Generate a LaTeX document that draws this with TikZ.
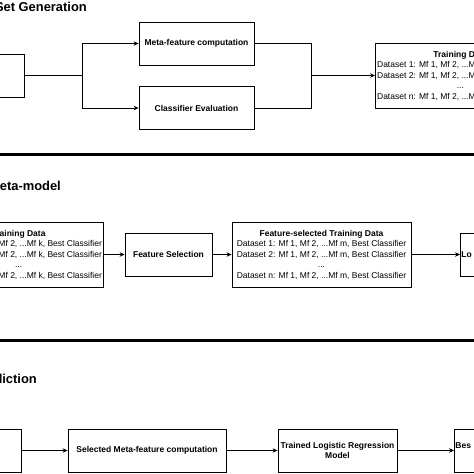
\documentclass[tikz,border=0pt]{standalone}
\usepackage{fontspec}
\setmainfont{Liberation Sans}
\usetikzlibrary{arrows.meta}

% rows of a training data table
\newcommand{\mfrows}[2]{\textbf{#1}\\Dataset 1: Mf 1, Mf 2, ...Mf #2, Best Classifier\\Dataset 2: Mf 1, Mf 2, ...Mf #2, Best Classifier\\...\\Dataset n: Mf 1, Mf 2, ...Mf #2, Best Classifier}

\begin{document}
\begin{tikzpicture}[x=1pt,y=-1pt,
        box/.style={draw,line width=0.8pt,minimum height=43,inner sep=1pt,align=center,
            font=\fontsize{8.5}{10}\selectfont\bfseries},
        databox/.style={draw,line width=0.8pt,minimum height=65,inner sep=1pt,align=center,
            font=\fontsize{8.5}{10.5}\selectfont},
        title/.style={anchor=base east,inner sep=0pt,font=\fontsize{12.9}{14}\selectfont\bfseries},
        arr/.style={-{Stealth[length=5pt,width=4.5pt]},line width=0.8pt},
        line/.style={line width=0.8pt},
        sep/.style={line width=3pt}]
        % frame of the picture, everything outside is cut off
        \useasboundingbox (0,0) rectangle (474,474);
        \clip (0,0) rectangle (474,474);

        % first stage
        \node[title] (t1) at (87,11) {Set Generation};
        \node[box,minimum width=90,anchor=east] (src) at (25,75.5) {};
        \node[box,minimum width=115] (meta) at (196.5,43.5) {Meta-feature computation};
        \node[box,minimum width=115] (clf) at (196.5,108) {Classifier Evaluation};
        \node[databox,minimum width=170,anchor=west] (train) at (375,75.5) {\mfrows{Training Data}{k}};

        % split into the two branches
        \draw[line] (src.east) -- (82,75.5) coordinate (fork);
        \draw[arr] (fork) |- (meta.west);
        \draw[arr] (fork) |- (clf.west);
        % and join them again
        \coordinate (merge) at (311,75.5);
        \draw[line] (meta.east) -| (merge);
        \draw[line] (clf.east) -| (merge);
        \draw[arr] (merge) -- (train.west);

        \draw[sep] (0,154) -- (474,154);

        % second stage
        \node[title] (t2) at (61,190) {eta-model};
        \node[databox,minimum width=170,anchor=east] (trainb) at (104,254.5) {\mfrows{Training Data}{k}};
        \node[box,minimum width=87] (fsel) at (168.5,254.5) {Feature Selection};
        \node[databox,minimum width=179] (fstrain) at (321.5,254.5) {\mfrows{Feature-selected Training Data}{m}};
        \node[box,anchor=west,text width=100,align=left] (logreg) at (460,254.5) {Lo};

        \draw[arr] (trainb.east) -- (fsel.west);
        \draw[arr] (fsel.east) -- (fstrain.west);
        \draw[arr] (fstrain.east) -- (logreg.west);

        \draw[sep] (0,340) -- (474,340);

        % third stage
        \node[title] (t3) at (37,383) {diction};
        \node[box,minimum width=80,anchor=east] (query) at (22,450.5) {};
        \node[box,minimum width=158] (selmeta) at (147,450.5) {Selected Meta-feature computation};
        \node[box,minimum width=119] (trlr) at (337.5,450.5) {Trained Logistic Regression\\Model};
        \node[box,anchor=west,text width=100,align=left] (best) at (454,450.5) {Bes\\\mbox{}};

        \draw[arr] (query.east) -- (selmeta.west);
        \draw[arr] (selmeta.east) -- (trlr.west);
        \draw[arr] (trlr.east) -- (best.west);
\end{tikzpicture}
\end{document}
